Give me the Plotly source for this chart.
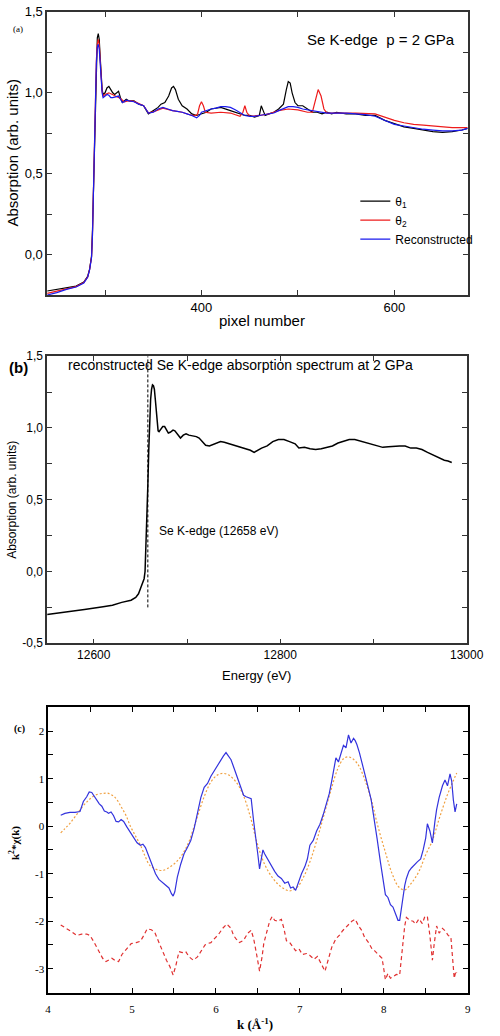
import plotly.graph_objects as go

# ---------------- Panel (a) data: absorption vs pixel number ----------------
a_pix_t1 = [240, 250, 260, 270, 278, 282, 284, 286, 287, 288, 289, 290, 291, 292, 293, 294, 295, 296, 297, 298,
            300, 302, 304, 306, 308, 310, 312, 314, 316, 318, 320, 322, 325, 330, 335, 340, 345, 350, 355, 358,
            362, 366, 369, 371, 373, 376, 380, 385, 390, 395, 400, 405, 410, 420, 430, 440, 445, 450, 455, 460,
            462, 464, 466, 470, 475, 480, 485, 488, 490, 492, 494, 497, 500, 505, 510, 515, 520, 525, 530, 535,
            540, 550, 560, 570, 580, 590, 600, 610, 620, 630, 640, 650, 660, 670, 676]
a_theta1 = [-0.225, -0.215, -0.205, -0.195, -0.17, -0.135, -0.09, -0.01, 0.15, 0.40, 0.70, 1.00, 1.22, 1.34, 1.366, 1.33, 1.22, 1.10, 1.02, 0.99,
            1.00, 1.03, 1.04, 1.02, 1.00, 0.99, 1.00, 1.01, 0.97, 0.94, 0.95, 0.96, 0.95, 0.95, 0.93, 0.92, 0.87, 0.89, 0.91, 0.93,
            0.94, 0.98, 1.03, 1.04, 1.02, 0.96, 0.92, 0.90, 0.87, 0.86, 0.87, 0.88, 0.90, 0.91, 0.89, 0.87, 0.86, 0.86, 0.85, 0.86,
            0.92, 0.89, 0.86, 0.87, 0.88, 0.90, 0.93, 1.02, 1.07, 1.06, 1.00, 0.94, 0.92, 0.92, 0.90, 0.88, 0.88, 0.87, 0.88, 0.87,
            0.88, 0.87, 0.87, 0.86, 0.86, 0.83, 0.81, 0.79, 0.78, 0.77, 0.76, 0.755, 0.76, 0.77, 0.78]

a_pix_t2 = [240, 250, 260, 270, 278, 282, 284, 286, 287, 288, 289, 290, 291, 292, 293, 294, 295, 296, 297, 298,
            300, 304, 310, 316, 320, 325, 330, 340, 345, 350, 360, 370, 380, 390, 394, 396, 398, 400, 402, 404,
            410, 420, 430, 435, 440, 443, 445, 447, 450, 460, 470, 480, 490, 500, 510, 515, 518, 521, 524, 527,
            530, 540, 560, 580, 590, 600, 610, 620, 630, 640, 650, 660, 670, 676]
a_theta2 = [-0.24, -0.225, -0.21, -0.198, -0.172, -0.138, -0.093, -0.015, 0.13, 0.39, 0.69, 0.99, 1.20, 1.30, 1.33, 1.30, 1.20, 1.08, 1.01, 0.98,
            0.99, 1.00, 0.98, 0.965, 0.945, 0.952, 0.947, 0.92, 0.877, 0.882, 0.905, 0.89, 0.88, 0.86, 0.86, 0.87, 0.92, 0.945, 0.92, 0.88,
            0.875, 0.88, 0.875, 0.865, 0.855, 0.88, 0.92, 0.88, 0.855, 0.86, 0.87, 0.89, 0.90, 0.895, 0.88, 0.88, 0.95, 1.02, 0.98, 0.90,
            0.875, 0.875, 0.875, 0.87, 0.85, 0.83, 0.815, 0.805, 0.80, 0.795, 0.79, 0.785, 0.785, 0.785]

a_pix_rec = [240, 250, 260, 270, 278, 282, 284, 286, 287, 288, 289, 290, 291, 292, 293, 294, 295, 296, 297, 298,
             300, 302, 304, 306, 308, 310, 312, 314, 316, 318, 320, 322, 325, 330, 335, 340, 345, 350, 355, 360,
             365, 370, 375, 380, 385, 390, 395, 398, 400, 405, 410, 415, 420, 425, 430, 435, 440, 445, 450, 455,
             460, 465, 470, 475, 480, 485, 490, 495, 500, 505, 510, 515, 520, 525, 530, 540, 550, 560, 570, 580,
             590, 600, 610, 620, 630, 640, 650, 660, 670, 676]
a_recon = [-0.25, -0.235, -0.215, -0.20, -0.175, -0.14, -0.095, -0.02, 0.12, 0.38, 0.68, 0.98, 1.18, 1.28, 1.30, 1.27, 1.17, 1.06, 1.00, 0.97,
           0.98, 0.99, 0.985, 0.97, 0.97, 0.975, 0.975, 0.98, 0.96, 0.94, 0.945, 0.955, 0.95, 0.945, 0.93, 0.92, 0.875, 0.88, 0.90, 0.91,
           0.90, 0.89, 0.885, 0.88, 0.87, 0.86, 0.845, 0.86, 0.88, 0.89, 0.90, 0.905, 0.915, 0.915, 0.91, 0.895, 0.875, 0.86, 0.855, 0.855,
           0.86, 0.865, 0.87, 0.875, 0.89, 0.905, 0.915, 0.915, 0.91, 0.90, 0.895, 0.89, 0.885, 0.88, 0.875, 0.875, 0.875, 0.87, 0.865, 0.855,
           0.83, 0.805, 0.795, 0.785, 0.775, 0.77, 0.765, 0.765, 0.77, 0.78]

# ---------------- Panel (b) data: reconstructed spectrum vs energy ----------------
b_energy = [12550, 12570, 12590, 12610, 12620, 12630, 12640, 12645, 12648, 12650, 12652, 12654, 12655, 12656, 12657, 12658,
            12659, 12660, 12661, 12662, 12663, 12664, 12665, 12666, 12667, 12668, 12669, 12670, 12672, 12674, 12676, 12678,
            12680, 12682, 12685, 12687, 12690, 12693, 12696, 12699, 12702, 12706, 12710, 12713, 12716, 12720, 12724, 12728,
            12732, 12736, 12740, 12745, 12750, 12756, 12762, 12768, 12772, 12776, 12780, 12786, 12792, 12798, 12804, 12810,
            12816, 12820, 12826, 12832, 12838, 12844, 12850, 12856, 12862, 12868, 12874, 12880, 12886, 12892, 12898, 12904,
            12910, 12916, 12922, 12928, 12934, 12940, 12946, 12952, 12958, 12964, 12970, 12976, 12980, 12984]
b_absorption = [-0.30, -0.285, -0.265, -0.245, -0.235, -0.215, -0.20, -0.18, -0.155, -0.12, -0.085, -0.05, 0.0, 0.16, 0.35, 0.60,
                0.85, 1.05, 1.20, 1.27, 1.30, 1.295, 1.27, 1.20, 1.10, 1.02, 0.98, 0.975, 0.99, 1.01, 1.01, 0.99,
                0.965, 0.97, 0.985, 0.98, 0.955, 0.93, 0.95, 0.96, 0.95, 0.945, 0.94, 0.93, 0.91, 0.88, 0.875, 0.885,
                0.89, 0.905, 0.90, 0.89, 0.88, 0.87, 0.86, 0.845, 0.83, 0.845, 0.86, 0.875, 0.905, 0.92, 0.92, 0.905,
                0.89, 0.86, 0.865, 0.855, 0.85, 0.855, 0.865, 0.875, 0.895, 0.91, 0.92, 0.92, 0.91, 0.895, 0.885, 0.875,
                0.865, 0.87, 0.875, 0.875, 0.875, 0.86, 0.86, 0.85, 0.83, 0.81, 0.79, 0.775, 0.77, 0.76]
b_edge_energy = 12658
b_edge_span = [-0.25, 1.5]

# ---------------- Panel (c) data: k^2 chi(k) ----------------
c_k_exp = [4.15, 4.20, 4.26, 4.32, 4.38, 4.42, 4.46, 4.49, 4.52, 4.55, 4.58, 4.61, 4.64, 4.67, 4.70, 4.72, 4.75, 4.78, 4.81, 4.84,
           4.87, 4.90, 4.94, 4.98, 5.02, 5.06, 5.10, 5.13, 5.16, 5.20, 5.24, 5.28, 5.32, 5.36, 5.40, 5.44, 5.47, 5.49, 5.51, 5.54,
           5.58, 5.62, 5.66, 5.70, 5.74, 5.78, 5.82, 5.86, 5.90, 5.94, 5.98, 6.02, 6.06, 6.09, 6.12, 6.15, 6.18, 6.21, 6.24, 6.27,
           6.30, 6.33, 6.36, 6.39, 6.42, 6.45, 6.47, 6.50, 6.52, 6.54, 6.56, 6.58, 6.62, 6.66, 6.70, 6.74, 6.78, 6.82, 6.86, 6.89,
           6.92, 6.95, 6.98, 7.02, 7.06, 7.09, 7.12, 7.16, 7.20, 7.24, 7.28, 7.32, 7.35, 7.38, 7.41, 7.43, 7.46, 7.49, 7.52, 7.55,
           7.58, 7.61, 7.64, 7.66, 7.68, 7.71, 7.73, 7.75, 7.78, 7.81, 7.85, 7.88, 7.92, 7.96, 7.99, 8.02, 8.05, 8.08, 8.11, 8.14,
           8.17, 8.19, 8.22, 8.25, 8.27, 8.30, 8.33, 8.36, 8.40, 8.44, 8.47, 8.50, 8.52, 8.55, 8.58, 8.61, 8.63, 8.66, 8.70, 8.73,
           8.76, 8.79, 8.81, 8.83, 8.85, 8.87]
c_chi_exp = [0.23, 0.27, 0.29, 0.29, 0.31, 0.52, 0.62, 0.72, 0.71, 0.62, 0.55, 0.47, 0.42, 0.32, 0.30, 0.27, 0.30, 0.22, 0.10, 0.09,
             0.14, 0.10, -0.02, -0.14, -0.25, -0.35, -0.40, -0.38, -0.45, -0.62, -0.82, -1.00, -1.12, -1.18, -1.22, -1.30, -1.42, -1.47, -1.38, -1.07,
             -0.80, -0.58, -0.45, -0.30, -0.05, 0.25, 0.60, 0.82, 0.90, 1.05, 1.17, 1.28, 1.40, 1.48, 1.55, 1.48, 1.40, 1.25, 1.10, 0.95,
             0.76, 0.65, 0.62, 0.60, 0.58, 0.10, -0.14, -0.60, -0.90, -0.70, -0.50, -0.58, -0.70, -0.85, -0.95, -1.05, -1.10, -1.20, -1.17, -1.30,
             -1.28, -1.35, -1.20, -1.00, -0.85, -0.69, -0.40, -0.30, -0.10, 0.04, 0.25, 0.50, 0.68, 0.95, 1.25, 1.44, 1.35, 1.55, 1.70, 1.65,
             1.92, 1.75, 1.85, 1.80, 1.72, 1.55, 1.42, 1.24, 1.05, 0.85, 0.56, 0.25, -0.25, -0.75, -1.10, -1.44, -1.50, -1.65, -1.70, -1.85,
             -1.98, -1.98, -1.60, -1.25, -1.10, -0.95, -0.88, -0.82, -0.75, -0.69, -0.50, -0.25, 0.05, -0.10, -0.35, 0.10, 0.35, 0.60, 0.85, 0.97,
             0.85, 1.10, 0.95, 0.55, 0.30, 0.47]

c_k_fit = [4.15, 4.20, 4.26, 4.33, 4.41, 4.49, 4.57, 4.65, 4.72, 4.80, 4.87, 4.93, 4.98, 5.04, 5.10, 5.16, 5.21, 5.29, 5.37, 5.46,
           5.56, 5.66, 5.76, 5.86, 5.94, 6.02, 6.09, 6.16, 6.24, 6.32, 6.41, 6.49, 6.58, 6.68, 6.78, 6.88, 6.97, 7.05, 7.13, 7.21,
           7.29, 7.37, 7.45, 7.52, 7.57, 7.63, 7.70, 7.78, 7.86, 7.93, 8.02, 8.10, 8.18, 8.25, 8.33, 8.42, 8.50, 8.58, 8.66, 8.75,
           8.82, 8.87]
c_chi_fit = [-0.14, -0.05, 0.06, 0.22, 0.41, 0.56, 0.66, 0.69, 0.69, 0.60, 0.41, 0.22, 0.00, -0.20, -0.40, -0.65, -0.82, -0.91, -0.93, -0.85,
             -0.69, -0.40, 0.10, 0.62, 0.93, 1.08, 1.11, 1.07, 0.93, 0.68, 0.20, -0.35, -0.80, -1.10, -1.28, -1.36, -1.28, -1.05, -0.70, -0.25,
             0.25, 0.75, 1.20, 1.42, 1.46, 1.42, 1.28, 0.95, 0.50, 0.00, -0.55, -1.00, -1.28, -1.34, -1.20, -0.95, -0.60, -0.30, 0.15, 0.62,
             0.92, 1.12]

c_k_res = [4.15, 4.22, 4.28, 4.34, 4.40, 4.46, 4.50, 4.55, 4.60, 4.65, 4.69, 4.73, 4.76, 4.80, 4.84, 4.88, 4.93, 4.99, 5.05, 5.10,
           5.14, 5.18, 5.23, 5.27, 5.31, 5.36, 5.41, 5.45, 5.49, 5.52, 5.56, 5.60, 5.64, 5.68, 5.73, 5.78, 5.83, 5.87, 5.90, 5.94,
           5.98, 6.03, 6.08, 6.13, 6.18, 6.21, 6.24, 6.28, 6.33, 6.38, 6.42, 6.45, 6.48, 6.52, 6.55, 6.57, 6.61, 6.64, 6.67, 6.70,
           6.74, 6.78, 6.81, 6.84, 6.88, 6.92, 6.95, 6.99, 7.03, 7.08, 7.12, 7.17, 7.21, 7.25, 7.30, 7.34, 7.38, 7.43, 7.47, 7.51,
           7.55, 7.58, 7.62, 7.66, 7.70, 7.74, 7.77, 7.82, 7.86, 7.89, 7.93, 7.98, 8.00, 8.02, 8.05, 8.08, 8.12, 8.15, 8.19, 8.22,
           8.25, 8.27, 8.31, 8.35, 8.38, 8.42, 8.46, 8.49, 8.52, 8.55, 8.58, 8.60, 8.63, 8.66, 8.70, 8.73, 8.77, 8.80, 8.82, 8.84,
           8.86, 8.87]
c_chi_res = [-2.08, -2.15, -2.22, -2.30, -2.27, -2.27, -2.30, -2.45, -2.62, -2.78, -2.85, -2.80, -2.78, -2.83, -2.85, -2.70, -2.60, -2.47, -2.45, -2.42,
             -2.30, -2.16, -2.18, -2.23, -2.40, -2.62, -2.82, -2.95, -3.13, -2.95, -2.64, -2.66, -2.64, -2.75, -2.82, -2.75, -2.62, -2.50, -2.47, -2.45,
             -2.37, -2.28, -2.15, -2.06, -2.15, -2.30, -2.37, -2.45, -2.40, -2.25, -2.19, -2.37, -2.65, -3.05, -2.75, -2.47, -2.20, -2.00, -1.90, -1.98,
             -2.00, -1.96, -2.15, -2.41, -2.45, -2.55, -2.62, -2.58, -2.70, -2.68, -2.72, -2.80, -2.74, -2.88, -3.05, -2.80, -2.55, -2.37, -2.30, -2.20,
             -2.12, -2.06, -2.00, -1.96, -2.10, -2.20, -2.33, -2.45, -2.58, -2.62, -2.70, -2.78, -3.00, -3.23, -3.10, -3.20, -3.16, -3.12, -3.13, -2.60,
             -2.10, -1.92, -1.98, -2.00, -2.06, -1.95, -2.05, -1.90, -1.90, -2.30, -2.82, -2.50, -2.10, -2.25, -2.15, -2.20, -2.30, -2.33, -2.80, -3.20,
             -3.05, -3.09]

# ---------------- tick labels ----------------
a_xtickvals = [400, 600]
a_xticktext = ["400", "600"]
a_xminor = [300, 500]
a_ytickvals = [0.0, 0.5, 1.0, 1.5]
a_yticktext = ["0,0", "0,5", "1,0", "1,5"]
a_yminor = [0.25, 0.75, 1.25]

b_xtickvals = [12600, 12800, 13000]
b_xticktext = ["12600", "12800", "13000"]
b_xminor = [12700, 12900]
b_ytickvals = [-0.5, 0.0, 0.5, 1.0, 1.5]
b_yticktext = ["-0,5", "0,0", "0,5", "1,0", "1,5"]
b_yminor = [-0.25, 0.25, 0.75, 1.25]

c_xtickvals = [4, 5, 6, 7, 8, 9]
c_xticktext = ["4", "5", "6", "7", "8", "9"]
c_xminor = [4.5, 5.5, 6.5, 7.5, 8.5]
c_ytickvals = [-3, -2, -1, 0, 1, 2]
c_yticktext = ["-3", "-2", "-1", "0", "1", "2"]
c_yminor = [-2.5, -1.5, -0.5, 0.5, 1.5]

SANS = "Liberation Sans, Arial, sans-serif"
SERIF = "Liberation Serif, Times New Roman, serif"
W, H = 500, 1036

fig = go.Figure()

# Panel (a)
fig.add_trace(go.Scatter(x=a_pix_t1, y=a_theta1, mode="lines", name="θ<sub>1</sub>",
                         line=dict(color="#000000", width=1.2), xaxis="x", yaxis="y"))
fig.add_trace(go.Scatter(x=a_pix_t2, y=a_theta2, mode="lines", name="θ<sub>2</sub>",
                         line=dict(color="#ee1c1c", width=1.2), xaxis="x", yaxis="y"))
fig.add_trace(go.Scatter(x=a_pix_rec, y=a_recon, mode="lines", name="Reconstructed",
                         line=dict(color="#1a1aee", width=1.2), xaxis="x", yaxis="y"))

# Panel (b)
fig.add_trace(go.Scatter(x=[b_edge_energy, b_edge_energy], y=b_edge_span, mode="lines", showlegend=False,
                         line=dict(color="#000000", width=1, dash="3px,2px"), xaxis="x2", yaxis="y2"))
fig.add_trace(go.Scatter(x=b_energy, y=b_absorption, mode="lines", showlegend=False,
                         line=dict(color="#000000", width=1.5), xaxis="x2", yaxis="y2"))

# Panel (c)
fig.add_trace(go.Scatter(x=c_k_fit, y=c_chi_fit, mode="lines", showlegend=False, line_shape="spline",
                         line=dict(color="#f0a040", width=1.2, dash="2px,2px"), xaxis="x3", yaxis="y3"))
fig.add_trace(go.Scatter(x=c_k_exp, y=c_chi_exp, mode="lines", showlegend=False,
                         line=dict(color="#3333dd", width=1.2), xaxis="x3", yaxis="y3"))
fig.add_trace(go.Scatter(x=c_k_res, y=c_chi_res, mode="lines", showlegend=False,
                         line=dict(color="#e03030", width=1.2, dash="4px,3px"), xaxis="x3", yaxis="y3"))


def ax(rng, dom, anchor, tv, tt, minor, font, color="#333333", lw=1.5, tl=5, standoff=None):
    d = dict(range=rng, domain=dom, anchor=anchor, tickmode="array", tickvals=tv, ticktext=tt,
             ticks="inside", ticklen=tl, tickwidth=1, tickcolor=color, showline=True, linecolor=color,
             linewidth=lw, mirror="ticks", showgrid=False, zeroline=False, tickfont=font,
             minor=dict(tickmode="array", tickvals=minor, ticks="inside", ticklen=tl, tickwidth=1,
                        tickcolor=color, showgrid=False))
    if standoff is not None:
        d["ticklabelstandoff"] = standoff
    return d


def py(p):
    return 1 - p / H


fa = dict(family=SANS, size=13, color="#000000")
fb = dict(family=SANS, size=12, color="#000000")
fc = dict(family=SERIF, size=11, color="#000000")

fig.update_layout(
    width=W, height=H, margin=dict(l=0, r=0, t=0, b=0),
    paper_bgcolor="white", plot_bgcolor="white",
    xaxis=ax([240, 676], [46 / W, 484 / W], "y", a_xtickvals, a_xticktext, a_xminor, fa),
    yaxis=ax([-0.25, 1.5], [py(292), py(5)], "x", a_ytickvals, a_yticktext, a_yminor, fa),
    xaxis2=ax([12550, 13000], [46 / W, 483 / W], "y2", b_xtickvals, b_xticktext, b_xminor, fb),
    yaxis2=ax([-0.5, 1.5], [py(645), py(354)], "x2", b_ytickvals, b_yticktext, b_yminor, fb),
    xaxis3=ax([4, 9], [47 / W, 484 / W], "y3", c_xtickvals, c_xticktext, c_xminor,
              dict(family=SERIF, size=11, color="#000000"), color="#000000", standoff=6),
    yaxis3=ax([-3.5, 2.5], [py(999), py(710)], "x3", c_ytickvals, c_yticktext, c_yminor,
              dict(family=SERIF, size=11, color="#000000"), color="#000000"),
    showlegend=True,
    legend=dict(x=367 / W, y=py(182), xanchor="left", yanchor="top", bgcolor="rgba(0,0,0,0)",
                font=dict(family=SANS, size=12, color="#000000"), tracegroupgap=0, itemwidth=30),
)

annotations = [
    dict(text="(a)", x=8 / W, y=py(22), xanchor="left", yanchor="middle", font=dict(family=SERIF, size=9)),
    dict(text="Se K-edge  p = 2 GPa", x=315 / W, y=py(33), xanchor="left", yanchor="middle",
         font=dict(family=SANS, size=15)),
    dict(text="Absorption (arb. units)", x=10 / W, y=py(148), xanchor="center", yanchor="middle", textangle=-90,
         font=dict(family=SANS, size=15)),
    dict(text="pixel number", x=270 / W, y=py(318), xanchor="center", yanchor="middle",
         font=dict(family=SANS, size=15)),
    dict(text="<b>(b)</b>", x=16 / W, y=py(365), xanchor="center", yanchor="middle",
         font=dict(family=SANS, size=15)),
    dict(text="reconstructed Se K-edge absorption spectrum at 2 GPa", x=247 / W, y=py(363), xanchor="center",
         yanchor="middle", font=dict(family=SANS, size=14)),
    dict(text="Absorption (arb. units)", x=10 / W, y=py(500), xanchor="center", yanchor="middle", textangle=-90,
         font=dict(family=SANS, size=12)),
    dict(text="Se K-edge (12658 eV)", x=160 / W, y=py(531), xanchor="left", yanchor="middle",
         font=dict(family=SANS, size=12)),
    dict(text="Energy (eV)", x=264 / W, y=py(678), xanchor="center", yanchor="middle",
         font=dict(family=SANS, size=13)),
    dict(text="<b>(c)</b>", x=17 / W, y=py(732), xanchor="center", yanchor="middle",
         font=dict(family=SERIF, size=10)),
    dict(text="<b>k<sup>2</sup>*χ(k)</b>", x=12 / W, y=py(848), xanchor="center", yanchor="middle", textangle=-90,
         font=dict(family=SERIF, size=11)),
    dict(text="<b>k (Å<sup>-1</sup>)</b>", x=262 / W, y=py(1031), xanchor="center", yanchor="middle",
         font=dict(family=SERIF, size=13)),
]
for a in annotations:
    a.update(xref="paper", yref="paper", showarrow=False)
    a["font"].setdefault("color", "#000000")
fig.update_layout(annotations=annotations)

fig.write_html("out.html")
